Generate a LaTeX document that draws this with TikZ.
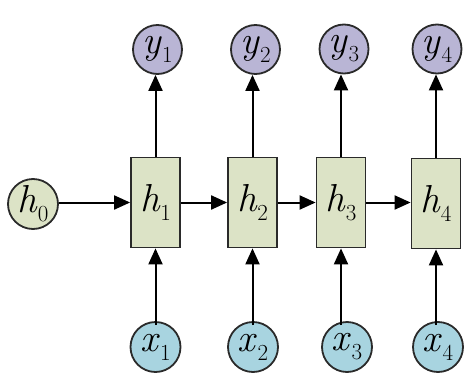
\documentclass[tikz,border=0pt]{standalone}
\usetikzlibrary{arrows.meta}
\definecolor{boxgreen}{HTML}{DCE3C6}
\definecolor{ylav}{HTML}{B9B5D5}
\definecolor{xblue}{HTML}{A8D4E0}
\definecolor{edge}{HTML}{2A2A2A}
\newcommand{\vlab}[2]{{\fontsize{39}{39}\selectfont\itshape #1\/}\raisebox{-9pt}{\fontsize{23}{23}\selectfont #2}}
\begin{document}
\begin{tikzpicture}[x=1pt,y=-1pt,
  hbox/.style={draw=edge,line width=1.8pt,fill=boxgreen,minimum width=49pt,minimum height=90pt,inner sep=0pt},
  hcirc/.style={circle,draw=edge,line width=1.8pt,fill=boxgreen,minimum size=50pt,inner sep=0pt},
  ycirc/.style={circle,draw=edge,line width=1.8pt,fill=ylav,minimum size=49pt,inner sep=0pt},
  xcirc/.style={circle,draw=edge,line width=1.8pt,fill=xblue,minimum size=50pt,inner sep=0pt},
  conn/.style={line width=2pt,-{Triangle[length=16pt,width=14pt]}}]
\useasboundingbox (0,0) rectangle (474,380);
\node[hcirc] (h0) at (33,204) {\vlab{h}{0}};
\node[hbox] (h1) at (155.5,202.5) {\vlab{h}{1}};
\node[hbox] (h2) at (252.5,202.5) {\vlab{h}{2}};
\node[hbox] (h3) at (341,202.5) {\vlab{h}{3}};
\node[hbox] (h4) at (436,203.5) {\vlab{h}{4}};
\node[ycirc] (y1) at (157.5,49.5) {\vlab{y}{1}};
\node[ycirc] (y2) at (255.5,49.5) {\vlab{y}{2}};
\node[ycirc] (y3) at (344,49) {\vlab{y}{3}};
\node[ycirc] (y4) at (437,49) {\vlab{y}{4}};
\node[xcirc] (x1) at (155.5,347) {\vlab{x}{1}};
\node[xcirc] (x2) at (253,347) {\vlab{x}{2}};
\node[xcirc] (x3) at (347,347) {\vlab{x}{3}};
\node[xcirc] (x4) at (438,347) {\vlab{x}{4}};
\draw[conn] (h0.east |- h1.west) -- (h1.west);
\draw[conn] (h1.east) -- (h2.west);
\draw[conn] (h2.east) -- (h3.west);
\draw[conn] (h3.east) -- (h3.east -| h4.west);
\foreach \i in {1,2,3,4}{
  \draw[conn] (h\i.north) -- (h\i.north |- y\i.south);
  \draw[conn] ([yshift=-4pt]h\i.south |- x\i.north) -- (h\i.south);
}
\end{tikzpicture}
\end{document}
